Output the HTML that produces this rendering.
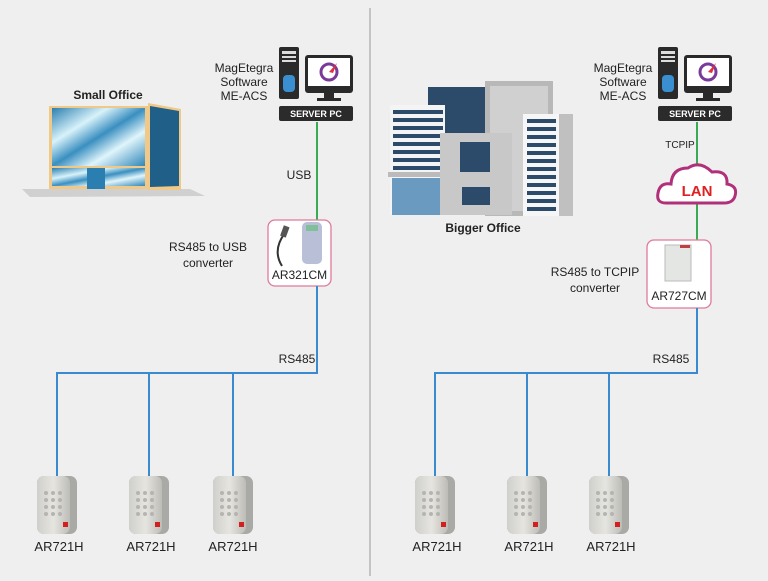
<!DOCTYPE html>
<html><head><meta charset="utf-8"><style>
html,body{margin:0;padding:0;background:#efefef}
svg{display:block}
text{font-family:"Liberation Sans",Arial,sans-serif;fill:#222}
</style></head><body>
<svg width="768" height="581" viewBox="0 0 768 581" xmlns="http://www.w3.org/2000/svg">
<defs>
<linearGradient id="glass" x1="0" y1="0" x2="1" y2="1">
<stop offset="0" stop-color="#2a7fb0"/><stop offset="0.3" stop-color="#d8f2fa"/><stop offset="0.5" stop-color="#3a8fc0"/><stop offset="0.7" stop-color="#e0f5fb"/><stop offset="1" stop-color="#2f86b8"/></linearGradient>
<linearGradient id="rd" x1="0" y1="0" x2="1" y2="0"><stop offset="0" stop-color="#cfcfcb"/><stop offset="0.5" stop-color="#e6e5e0"/><stop offset="1" stop-color="#bdbcb7"/></linearGradient>
<g id="reader">
<rect x="0" y="0" width="40" height="58" rx="7" fill="#a9a9a6"/>
<rect x="0" y="0" width="33" height="58" rx="7" fill="url(#rd)"/>
<g fill="#b5b4b0">
<circle cx="9" cy="17" r="2"/><circle cx="16" cy="17" r="2"/><circle cx="23" cy="17" r="2"/>
<circle cx="9" cy="24" r="2"/><circle cx="16" cy="24" r="2"/><circle cx="23" cy="24" r="2"/>
<circle cx="9" cy="31" r="2"/><circle cx="16" cy="31" r="2"/><circle cx="23" cy="31" r="2"/>
<circle cx="9" cy="38" r="2"/><circle cx="16" cy="38" r="2"/><circle cx="23" cy="38" r="2"/></g>
<rect x="26" y="46" width="5" height="5" fill="#d02020"/>
</g>
<g id="server">
<rect x="0" y="0" width="20" height="52" rx="2" fill="#2a2a2a"/>
<rect x="3" y="4" width="14" height="3" fill="#ddd"/><rect x="3" y="9" width="14" height="2" fill="#ddd"/><rect x="3" y="13" width="14" height="2" fill="#ddd"/>
<rect x="4" y="28" width="12" height="17" rx="4" fill="#3a8fd0"/>
<rect x="26" y="8" width="48" height="38" rx="3" fill="#2a2a2a"/>
<rect x="29" y="11" width="42" height="28" fill="#fff"/>
<circle cx="50" cy="25" r="8" fill="none" stroke="#7a3a9a" stroke-width="3"/>
<path d="M50 25 L58 16 L54 26 Z" fill="#e03040"/>
<rect x="45" y="46" width="10" height="6" fill="#2a2a2a"/><rect x="38" y="51" width="24" height="3" fill="#2a2a2a"/>
<rect x="0" y="59" width="74" height="15" rx="2" fill="#2b2b2b"/>
<text x="37" y="70" font-size="9" font-weight="bold" text-anchor="middle" style="fill:#fff">SERVER PC</text>
</g>
</defs>
<rect width="768" height="581" fill="#efefef"/>
<line x1="370" y1="8" x2="370" y2="576" stroke="#9a9a9a" stroke-width="1"/>

<text x="108" y="99" font-size="12" font-weight="bold" text-anchor="middle">Small Office</text>
<polygon points="22,189 190,189 205,196 30,197" fill="#d0d0d0"/>
<rect x="49" y="106" width="99" height="83" fill="#f0c888"/>
<rect x="52" y="108" width="93" height="58" fill="url(#glass)"/>
<rect x="52" y="168" width="93" height="18" fill="url(#glass)"/>
<rect x="87" y="168" width="18" height="21" fill="#2a7fb0"/>
<polygon points="148,103 181,109 181,190 148,190" fill="#f0c888"/>
<polygon points="150,106 179,111 179,186 150,187" fill="#1f5f88"/>

<rect x="428" y="87" width="80" height="110" fill="#2c4a6a"/>
<rect x="485" y="81" width="68" height="135" fill="#b8b8b8"/>
<rect x="490" y="86" width="58" height="125" fill="#d0d0d0"/>
<rect x="390" y="105" width="55" height="110" fill="#f4f4f4"/>
<g fill="#2c4a6a"><rect x="393" y="110" width="50" height="4"/><rect x="393" y="118" width="50" height="4"/><rect x="393" y="126" width="50" height="4"/><rect x="393" y="134" width="50" height="4"/><rect x="393" y="142" width="50" height="4"/><rect x="393" y="150" width="50" height="4"/><rect x="393" y="158" width="50" height="4"/><rect x="393" y="166" width="50" height="4"/></g>
<rect x="388" y="172" width="58" height="5" fill="#bbb"/>
<rect x="392" y="178" width="52" height="37" fill="#6a9ac0"/>
<rect x="440" y="133" width="72" height="82" fill="#c8c8c8"/>
<rect x="460" y="142" width="30" height="30" fill="#2c4a6a"/>
<rect x="462" y="187" width="28" height="18" fill="#2c4a6a"/>
<rect x="523" y="114" width="50" height="102" fill="#c0c0c0"/>
<rect x="523" y="114" width="36" height="102" fill="#f6f6f6"/>
<g fill="#2c4a6a"><rect x="527" y="119" width="29" height="4"/><rect x="527" y="127" width="29" height="4"/><rect x="527" y="135" width="29" height="4"/><rect x="527" y="143" width="29" height="4"/><rect x="527" y="151" width="29" height="4"/><rect x="527" y="159" width="29" height="4"/><rect x="527" y="167" width="29" height="4"/><rect x="527" y="175" width="29" height="4"/><rect x="527" y="183" width="29" height="4"/><rect x="527" y="191" width="29" height="4"/><rect x="527" y="199" width="29" height="4"/><rect x="527" y="207" width="29" height="4"/></g>
<text x="483" y="232" font-size="12" font-weight="bold" text-anchor="middle">Bigger Office</text>

<use href="#server" x="279" y="47"/>
<text font-size="12" text-anchor="middle"><tspan x="244" y="72">MagEtegra</tspan><tspan x="244" y="86">Software</tspan><tspan x="244" y="100">ME-ACS</tspan></text>
<line x1="317" y1="122" x2="317" y2="220" stroke="#3aaa55" stroke-width="2"/>
<text x="299" y="179" font-size="12" text-anchor="middle">USB</text>
<rect x="268" y="220" width="63" height="66" rx="7" fill="#fff" stroke="#e07a9a" stroke-width="1.3"/>
<path d="M285 233 Q272 250 282 266" stroke="#333" stroke-width="2" fill="none"/>
<rect x="282" y="226" width="6" height="11" fill="#555" transform="rotate(20 285 231)"/>
<rect x="302" y="222" width="20" height="42" rx="5" fill="#b9bfd6"/>
<rect x="306" y="225" width="12" height="6" fill="#7fbf9a"/>
<text x="299.5" y="279" font-size="12" text-anchor="middle">AR321CM</text>
<text font-size="12" text-anchor="middle"><tspan x="208" y="251">RS485 to USB</tspan><tspan x="208" y="267">converter</tspan></text>
<g stroke="#3a8ad0" stroke-width="2" fill="none">
<path d="M317 286 V373 M57 373 H318 M57 372 V478 M149 372 V478 M233 372 V478"/></g>
<text x="297" y="363" font-size="12" text-anchor="middle">RS485</text>
<use href="#reader" x="37" y="476"/><use href="#reader" x="129" y="476"/><use href="#reader" x="213" y="476"/>
<text font-size="13" text-anchor="middle"><tspan x="59" y="551">AR721H</tspan><tspan x="151" y="551">AR721H</tspan><tspan x="233" y="551">AR721H</tspan></text>

<use href="#server" x="658" y="47"/>
<text font-size="12" text-anchor="middle"><tspan x="623" y="72">MagEtegra</tspan><tspan x="623" y="86">Software</tspan><tspan x="623" y="100">ME-ACS</tspan></text>
<line x1="697" y1="122" x2="697" y2="240" stroke="#3aaa55" stroke-width="2"/>
<text x="680" y="148" font-size="10" text-anchor="middle">TCPIP</text>
<path d="M666 203 Q656 203 658 193 Q660 182 671 184 Q672 168 688 168 Q700 160 712 172 Q728 170 727 184 Q738 186 735 196 Q733 203 724 203 Z" fill="#fff" stroke="#b0307a" stroke-width="3"/>
<text x="697" y="196" font-size="15" font-weight="bold" text-anchor="middle" style="fill:#e02020">LAN</text>
<rect x="647" y="240" width="64" height="68" rx="7" fill="#fff" stroke="#e07a9a" stroke-width="1.3"/>
<rect x="665" y="245" width="26" height="36" fill="#e4e6e4" stroke="#bbb"/>
<rect x="680" y="245" width="10" height="3" fill="#c04040"/>
<text x="679" y="300" font-size="12" text-anchor="middle">AR727CM</text>
<text font-size="12" text-anchor="middle"><tspan x="595" y="276">RS485 to TCPIP</tspan><tspan x="595" y="292">converter</tspan></text>
<g stroke="#3a8ad0" stroke-width="2" fill="none">
<path d="M697 308 V373 M435 373 H698 M435 372 V478 M527 372 V478 M609 372 V478"/></g>
<text x="671" y="363" font-size="12" text-anchor="middle">RS485</text>
<use href="#reader" x="415" y="476"/><use href="#reader" x="507" y="476"/><use href="#reader" x="589" y="476"/>
<text font-size="13" text-anchor="middle"><tspan x="437" y="551">AR721H</tspan><tspan x="529" y="551">AR721H</tspan><tspan x="611" y="551">AR721H</tspan></text>
</svg>
</body></html>
